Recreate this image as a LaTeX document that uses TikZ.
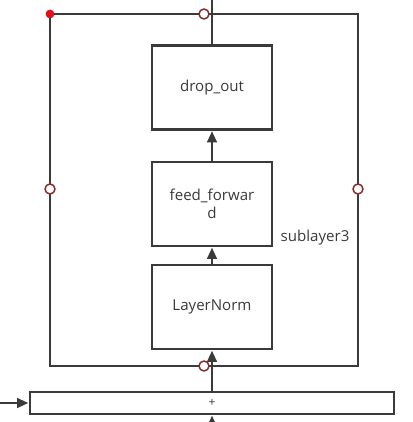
\documentclass[tikz,border=0pt]{standalone}
\usepackage{fontspec}
\setmainfont{Open Sans}
\usetikzlibrary{arrows.meta}
\definecolor{lineg}{HTML}{3A3A3A}
\definecolor{ringred}{HTML}{8B2A2A}
\definecolor{dotred}{HTML}{E0101A}
\begin{document}
\begin{tikzpicture}[x=0.75pt,y=-0.75pt,
        box style/.style={draw=lineg,line width=2.2pt,fill=white,minimum width=90pt,minimum height=63pt,inner sep=0pt,align=center,font=\fontsize{11.3}{13.5}\selectfont,text=lineg},
        ring style/.style={circle,draw=ringred,fill=white,line width=1.1pt,minimum size=7.5pt,inner sep=0pt},
        link/.style={draw=lineg,line width=2.2pt},
        up/.style={link,-{Triangle[length=8.5pt,width=7pt]}}]
        \useasboundingbox (0,0) rectangle (413,422);
        % outer loop
        \coordinate (tl) at (50,14);
        \coordinate (br) at (358,366);
        \draw[link] (tl) rectangle (br);
        \node[box style] (drop) at (212,87.5) {drop\_out};
        \node[box style] (feed) at (212,204) {feed\_forwar\\d};
        \node[box style] (norm) at (212,307) {LayerNorm};
        \node[draw=lineg,line width=2.2pt,fill=white,minimum width=273pt,minimum height=16.5pt,inner sep=0pt,font=\fontsize{9}{10}\selectfont,text=lineg] (plus) at (212,403) {+};
        \node[text=lineg,font=\fontsize{11.3}{13.5}\selectfont,anchor=west] (lbl) at (276,238) {sublayer3};
        \coordinate (top) at (212,0);
        \coordinate (left) at (0,403);
        \coordinate (bot) at (212,432);
        \draw[link] (drop.north) -- (top);
        \draw[up] (feed.north) -- (drop.south);
        \draw[up] (norm.north) -- (feed.south);
        \draw[up] (plus.north) -- (norm.south);
        \draw[up] (left) -- (plus.west);
        \draw[up] (bot) -- (plus.south);
        % connection points
        \node[ring style] (r1) at (204,14) {};
        \node[ring style] (r2) at (50,189) {};
        \node[ring style] (r3) at (358,189) {};
        \node[ring style] (r4) at (204,366) {};
        \fill[dotred] (tl) circle (3.3pt);
\end{tikzpicture}
\end{document}
